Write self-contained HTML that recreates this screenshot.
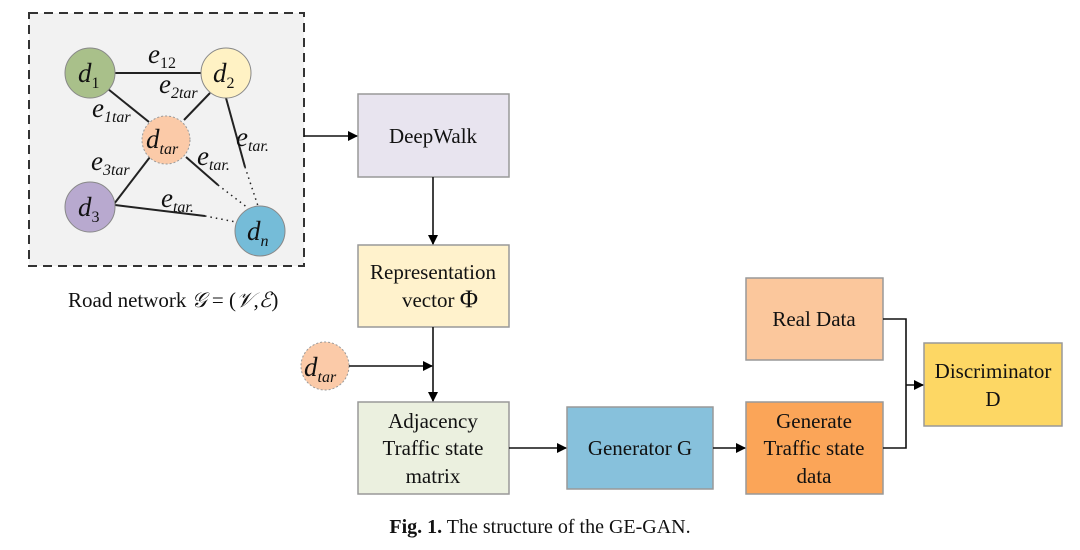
<!DOCTYPE html>
<html><head><meta charset="utf-8"><style>
html,body{margin:0;padding:0;background:#fff;}
svg{display:block;font-family:"Liberation Serif",serif;}
</style></head><body>
<svg width="1080" height="550" viewBox="0 0 1080 550" xmlns="http://www.w3.org/2000/svg">
<defs><marker id="a" markerWidth="10" markerHeight="10" refX="9" refY="5" orient="auto" markerUnits="userSpaceOnUse"><path d="M0,0 L10,5 L0,10 z" fill="#000"/></marker></defs>
<rect x="29" y="13" width="275" height="253" fill="#f2f2f2" stroke="#333" stroke-width="2" stroke-dasharray="9,6"/>
<g stroke="#222" stroke-width="2" fill="none">
<line x1="115" y1="73" x2="202" y2="73"/>
<line x1="108" y1="89" x2="149" y2="122"/>
<line x1="210" y1="93" x2="184" y2="120"/>
<line x1="150" y1="157" x2="114" y2="204"/>
<line x1="115" y1="205" x2="205" y2="216"/>
<line x1="186" y1="157" x2="218" y2="185"/>
<line x1="226" y1="98" x2="245" y2="167"/>
</g>
<g stroke="#222" stroke-width="1.5" fill="none" stroke-dasharray="1.5,4">
<line x1="205" y1="216" x2="236" y2="222"/>
<line x1="218" y1="185" x2="248" y2="208"/>
<line x1="245" y1="167" x2="258" y2="206"/>
</g>
<circle cx="90" cy="73" r="25" fill="#a9c08a" stroke="#888"/>
<circle cx="226" cy="73" r="25" fill="#fff2c4" stroke="#888"/>
<circle cx="166" cy="140" r="24" fill="#fbcaa8" stroke="#999" stroke-dasharray="2,2"/>
<circle cx="90" cy="207" r="25" fill="#b8a9cf" stroke="#888"/>
<circle cx="260" cy="231" r="25" fill="#75bcd8" stroke="#888"/>
<g font-style="italic" font-size="27" fill="#111">
<text x="78" y="82">d<tspan font-size="16" font-style="normal" dy="6">1</tspan></text>
<text x="213" y="82">d<tspan font-size="16" font-style="normal" dy="6">2</tspan></text>
<text x="146" y="148">d<tspan font-size="16" dy="6">tar</tspan></text>
<text x="78" y="216">d<tspan font-size="16" font-style="normal" dy="6">3</tspan></text>
<text x="247" y="240">d<tspan font-size="16" dy="6">n</tspan></text>
<text x="148" y="63">e<tspan font-size="16" font-style="normal" dy="5">12</tspan></text>
<text x="159" y="93">e<tspan font-size="16" dy="5">2tar</tspan></text>
<text x="92" y="117">e<tspan font-size="16" dy="5">1tar</tspan></text>
<text x="91" y="170">e<tspan font-size="16" dy="5">3tar</tspan></text>
<text x="197" y="165">e<tspan font-size="16" dy="5">tar.</tspan></text>
<text x="236" y="146">e<tspan font-size="16" dy="5">tar.</tspan></text>
<text x="161" y="207">e<tspan font-size="16" dy="5">tar.</tspan></text>
</g>
<text x="68" y="307" font-size="21" fill="#111">Road network <tspan font-style="italic">𝒢</tspan> = (<tspan font-style="italic">𝒱</tspan>,<tspan font-style="italic">ℰ</tspan>)</text>
<g stroke="#999" stroke-width="1.5">
<rect x="358" y="94" width="151" height="83" fill="#e8e4ef"/>
<rect x="358" y="245" width="151" height="82" fill="#fff2cc"/>
<rect x="358" y="402" width="151" height="92" fill="#ebf0df"/>
<rect x="567" y="407" width="146" height="82" fill="#87c1dc"/>
<rect x="746" y="278" width="137" height="82" fill="#fbc79c"/>
<rect x="746" y="402" width="137" height="92" fill="#fba558"/>
<rect x="924" y="343" width="138" height="83" fill="#fdd764"/>
</g>
<circle cx="325" cy="366" r="24" fill="#fbcaa8" stroke="#999" stroke-dasharray="2,2"/>
<text x="304" y="376" font-size="27" font-style="italic" fill="#111">d<tspan font-size="16" dy="6">tar</tspan></text>
<g font-size="21" fill="#111" text-anchor="middle">
<text x="433" y="143">DeepWalk</text>
<text x="433" y="279">Representation</text>
<text x="440" y="307">vector  <tspan font-size="25">Φ</tspan></text>
<text x="433" y="428">Adjacency</text>
<text x="433" y="455">Traffic state</text>
<text x="433" y="483">matrix</text>
<text x="640" y="455">Generator G</text>
<text x="814" y="326">Real Data</text>
<text x="814" y="428">Generate</text>
<text x="814" y="455">Traffic state</text>
<text x="814" y="483">data</text>
<text x="993" y="378">Discriminator</text>
<text x="993" y="406">D</text>
</g>
<g stroke="#111" stroke-width="1.6" fill="none">
<line x1="304" y1="136" x2="357" y2="136" marker-end="url(#a)"/>
<line x1="433" y1="177" x2="433" y2="244" marker-end="url(#a)"/>
<line x1="433" y1="327" x2="433" y2="401" marker-end="url(#a)"/>
<line x1="349" y1="366" x2="432" y2="366" marker-end="url(#a)"/>
<line x1="509" y1="448" x2="566" y2="448" marker-end="url(#a)"/>
<line x1="713" y1="448" x2="745" y2="448" marker-end="url(#a)"/>
<polyline points="883,319 906,319 906,448 883,448"/>
<line x1="906" y1="385" x2="923" y2="385" marker-end="url(#a)"/>
</g>
<text x="540" y="533" font-size="20" text-anchor="middle" fill="#111"><tspan font-weight="bold">Fig. 1.</tspan> The structure of the GE-GAN.</text>
</svg>
</body></html>
